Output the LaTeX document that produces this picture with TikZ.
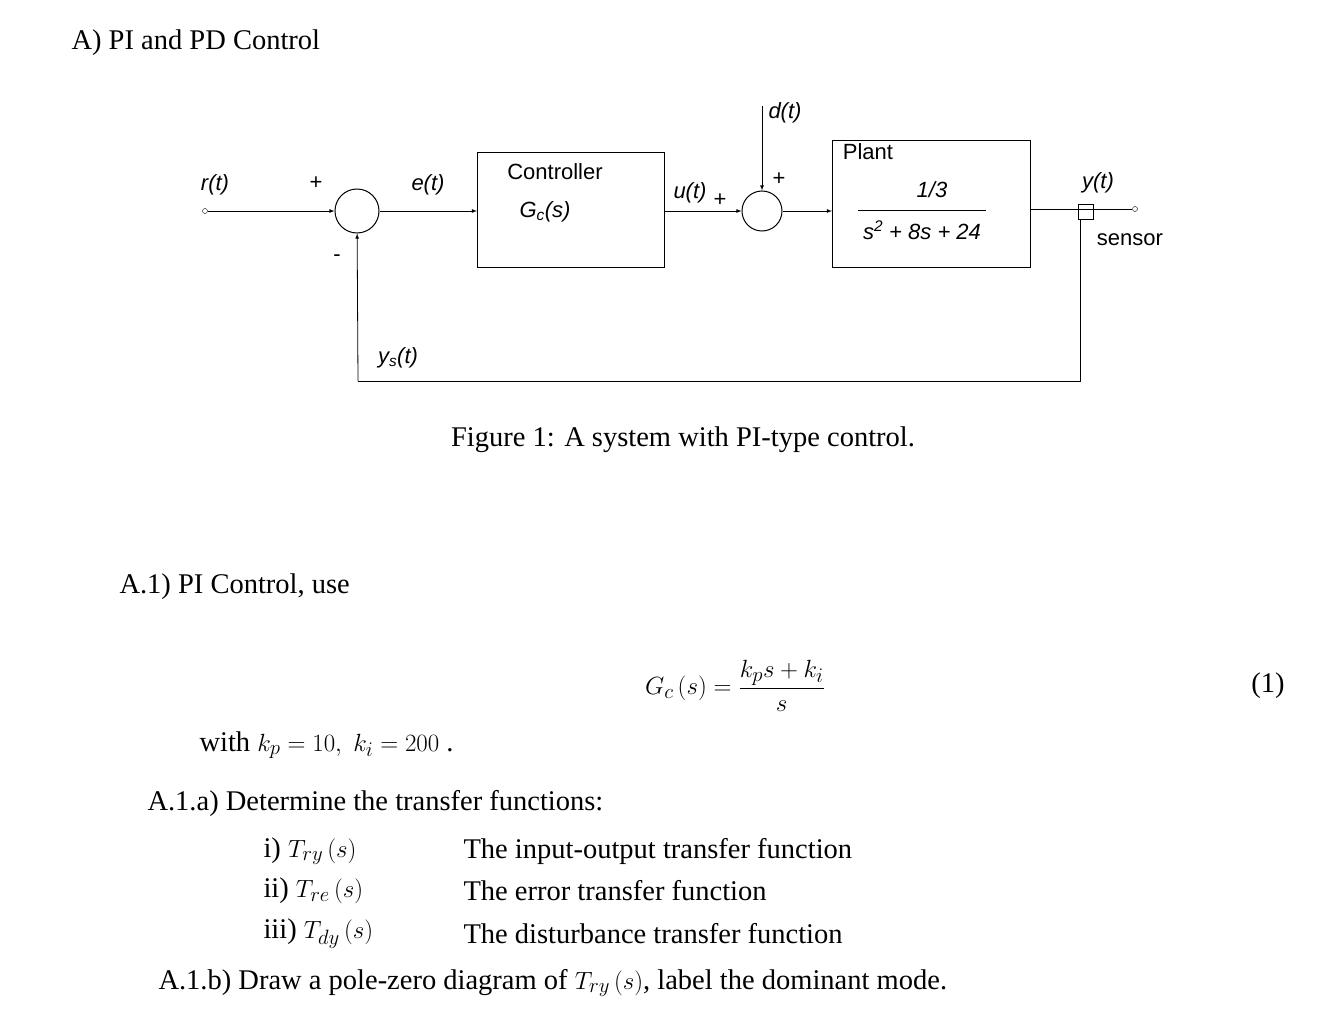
\documentclass[tikz,border=0pt]{standalone}
\usepackage{amsmath}
\usepackage{fontspec}
\setmainfont{Liberation Serif}
\newfontfamily\hv{Liberation Sans}
\begin{document}
\begin{tikzpicture}[x=1pt,y=-1pt,
  blk/.style={draw,line width=1pt,anchor=north west},
  lbl/.style={font=\hv\fontsize{22}{26}\selectfont},
  txt/.style={font=\fontsize{28.5}{33}\selectfont,anchor=west},
  sumc/.style={draw,circle,line width=1pt,inner sep=0pt},
  port/.style={draw,circle,inner sep=0pt,minimum size=5pt},
  arr/.style={-latex,line width=0.8pt},
  ln/.style={line width=0.8pt}]
\useasboundingbox (0,0) rectangle (1334,1019);
\node[txt] (h) at (68,43) {A) PI and PD Control};
% block diagram
\node[port] (rin) at (205,211) {};
\node[lbl] (rl) at (215,185) {\textit{r(t)}};
\node[sumc,minimum size=44pt] (s1) at (357,211) {};
\node[lbl] (p1) at (316,183) {+};
\node[lbl] (m1) at (337,258) {-};
\node[lbl] (el) at (428,185) {\textit{e(t)}};
\node[blk,minimum width=187pt,minimum height=115pt] (ctl) at (477,152) {};
\node[lbl] (ct) at (555,172) {Controller};
\node[lbl] (gc) at (545,212) {\textit{G\textsubscript{c}(s)}};
\node[lbl] (ul) at (690,193) {\textit{u(t)}};
\node[lbl] (p2) at (720,200) {+};
\node[sumc,minimum size=40pt] (s2) at (762,211) {};
\coordinate (dtop) at (762,106);
\node[lbl] (dl) at (785,113) {\textit{d(t)}};
\node[lbl] (p3) at (779,179) {+};
\node[blk,minimum width=198pt,minimum height=127pt] (pl) at (832,140) {};
\node[lbl] (plt) at (868,152) {Plant};
\node[lbl,inner sep=1pt] (tf1) at (932,190) {\textit{1/3}};
\node[lbl,inner sep=1pt] (tf2) at (922,230) {\textit{s\textsuperscript{2} + 8s + 24}};
\draw[line width=0.6pt] (858,210) -- (986,210);
\node[draw,line width=0.8pt,minimum size=15pt,inner sep=0pt] (sen) at (1086,212) {};
\node[port] (yout) at (1135,209) {};
\node[lbl] (yl) at (1098,183) {\textit{y(t)}};
\node[lbl] (snl) at (1130,240) {sensor};
\node[lbl] (ysl) at (398,358) {\textit{y\textsubscript{s}(t)}};
\coordinate (fb1) at (1080,381);
\coordinate (fb2) at (358,381);
\draw[arr] (rin) -- (s1);
\draw[arr] (s1) -- (ctl.west |- s1);
\draw[arr] (ctl.east |- s2) -- (s2);
\draw[arr] (dtop) -- (s2);
\draw[arr] (s2) -- (pl.west |- s2);
\draw[ln] (pl.east |- yout) -- (yout);
\draw[ln] (sen.south -| fb1) -- (fb1) -- (fb2);
\draw[arr] (fb2) -- (s1);
% text
\node[txt,anchor=center] (cap) at (683,440) {Figure 1: A system with PI-type control.};
\node[txt] (a1) at (116,587) {A.1) PI Control, use};
\node[txt,anchor=center] (eq) at (735,686) {$G_c\left(s\right)=\dfrac{k_ps+k_i}{s}$};
\node[txt,anchor=center] (en) at (1268,686) {(1)};
\node[txt] (w) at (196,745) {with $k_p=10,\ k_i=200$ .};
\node[txt] (a1a) at (144,803) {A.1.a) Determine the transfer functions:};
\node[txt] (i1) at (260,851) {i) $T_{ry}\left(s\right)$};
\node[txt] (i2) at (260,891) {ii) $T_{re}\left(s\right)$};
\node[txt] (i3) at (260,934) {iii) $T_{dy}\left(s\right)$};
\node[txt] (d1) at (460,851) {The input-output transfer function};
\node[txt] (d2) at (460,891) {The error transfer function};
\node[txt] (d3) at (460,934) {The disturbance transfer function};
\node[txt] (a1b) at (155,983) {A.1.b) Draw a pole-zero diagram of $T_{ry}\left(s\right)$, label the dominant mode.};
\end{tikzpicture}
\end{document}
